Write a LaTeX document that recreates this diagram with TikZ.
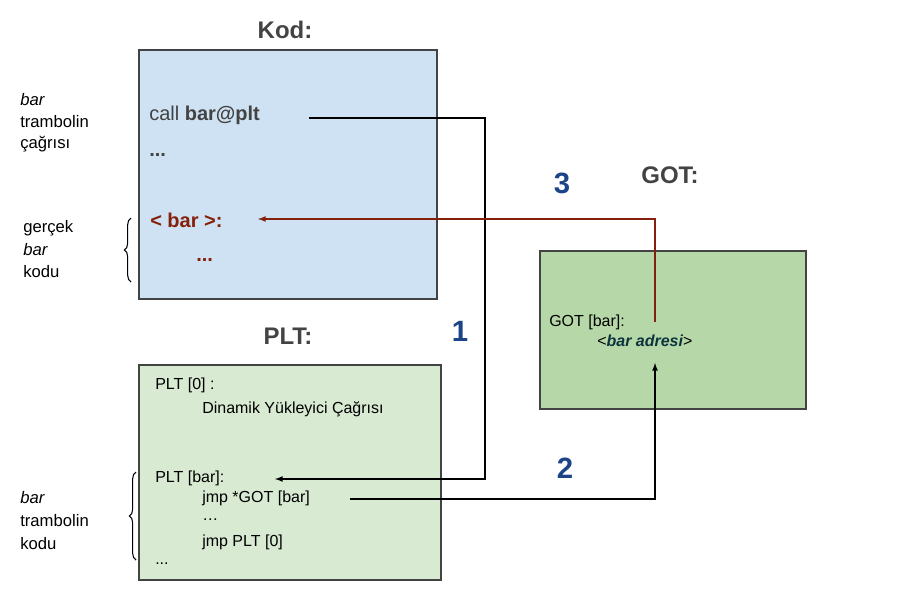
\documentclass[tikz,border=0pt]{standalone}
\usepackage{fontspec}
\setmainfont{Liberation Sans}
\usetikzlibrary{decorations.pathreplacing}
\definecolor{kodfill}{HTML}{CFE2F3}
\definecolor{pltfill}{HTML}{D9EAD3}
\definecolor{gotfill}{HTML}{B6D7A8}
\definecolor{dred}{HTML}{85200C}
\definecolor{dblue}{HTML}{1C4587}
\definecolor{dgray}{HTML}{434343}
\definecolor{teal}{HTML}{0C343D}
\begin{document}
\begin{tikzpicture}[x=0.75pt,y=-0.75pt,
  box/.style={draw=dgray,line width=1pt},
  head/.style={font=\fontsize{18}{20}\selectfont\bfseries,text=dgray},
  side/.style={anchor=west,font=\fontsize{12.5}{14}\selectfont,inner sep=0},
  pt/.style={anchor=west,font=\fontsize{12}{14}\selectfont,inner sep=0},
  num/.style={font=\fontsize{22}{24}\selectfont\bfseries,text=dblue},
  conn/.style={line width=1pt,-latex}]
\useasboundingbox (0,0) rectangle (916,610);
% boxes
\filldraw[box,fill=kodfill] (139,50) rectangle (437,299);
\filldraw[box,fill=pltfill] (139,365) rectangle (441,580);
\filldraw[box,fill=gotfill] (540,251) rectangle (806,409);
\node[head] (kod) at (285,30) {Kod:};
\node[head] (plt) at (288,336) {PLT:};
\node[head] (got) at (670,175) {GOT:};
% Kod text
\node[anchor=west,inner sep=0,text=dgray,font=\fontsize{15}{17}\selectfont] (call) at (149,115) {call \textbf{bar@plt}};
\node[anchor=west,inner sep=0,text=dgray,font=\fontsize{15}{17}\selectfont\bfseries] (dots1) at (149,155) {...};
\node[anchor=west,inner sep=0,text=dred,font=\fontsize{15}{17}\selectfont\bfseries] (barlbl) at (150,220) {< bar >:};
\node[anchor=west,inner sep=0,text=dred,font=\fontsize{15}{17}\selectfont\bfseries] (dots2) at (196,260) {...};
% side labels
\node[side] (s1) at (20,100) {\itshape bar};
\node[side] (s2) at (20,122) {trambolin};
\node[side] (s3) at (20,144) {çağrısı};
\node[side] (g1) at (23,228) {gerçek};
\node[side] (g2) at (23,250) {\itshape bar};
\node[side] (g3) at (23,272) {kodu};
\draw[line width=0.8pt,decorate,decoration={brace,amplitude=5pt}] (131,282) -- (131,218);
\node[side] (b1) at (20,498) {\itshape bar};
\node[side] (b2) at (20,521) {trambolin};
\node[side] (b3) at (20,544) {kodu};
\draw[line width=0.8pt,decorate,decoration={brace,amplitude=5pt}] (136,560) -- (136,472);
% PLT text
\node[pt] (p0) at (155,385) {PLT [0] :};
\node[pt] (p1) at (202,409) {Dinamik Yükleyici Çağrısı};
\node[pt] (pb) at (155,478) {PLT [bar]:};
\node[pt] (jg) at (202,498) {jmp *GOT [bar]};
\node[pt] (pd) at (202,520) {…};
\node[pt] (jp) at (202,542) {jmp PLT [0]};
\node[pt] (pe) at (155,564) {...};
% GOT text
\node[pt] (gb) at (549,322) {GOT [bar]:};
\node[pt] (ga) at (597,341) {<\textcolor{teal}{\bfseries\itshape bar adresi}>};
% numbers
\node[num] (n1) at (460,331) {1};
\node[num] (n2) at (565,468) {2};
\node[num] (n3) at (562,183) {3};
% connectors
\coordinate (a1s) at (309,118);
\coordinate (a1e) at (275,479);
\draw[conn] (a1s) -- (485,118) -- (485,479) -- (a1e);
\coordinate (a2s) at (350,499);
\coordinate (a2e) at (655,363);
\draw[conn] (a2s) -- (655,499) -- (a2e);
\coordinate (a3s) at (655,322);
\coordinate (a3e) at (258,219);
\draw[conn,draw=dred] (a3s) -- (655,219) -- (a3e);
\end{tikzpicture}
\end{document}
